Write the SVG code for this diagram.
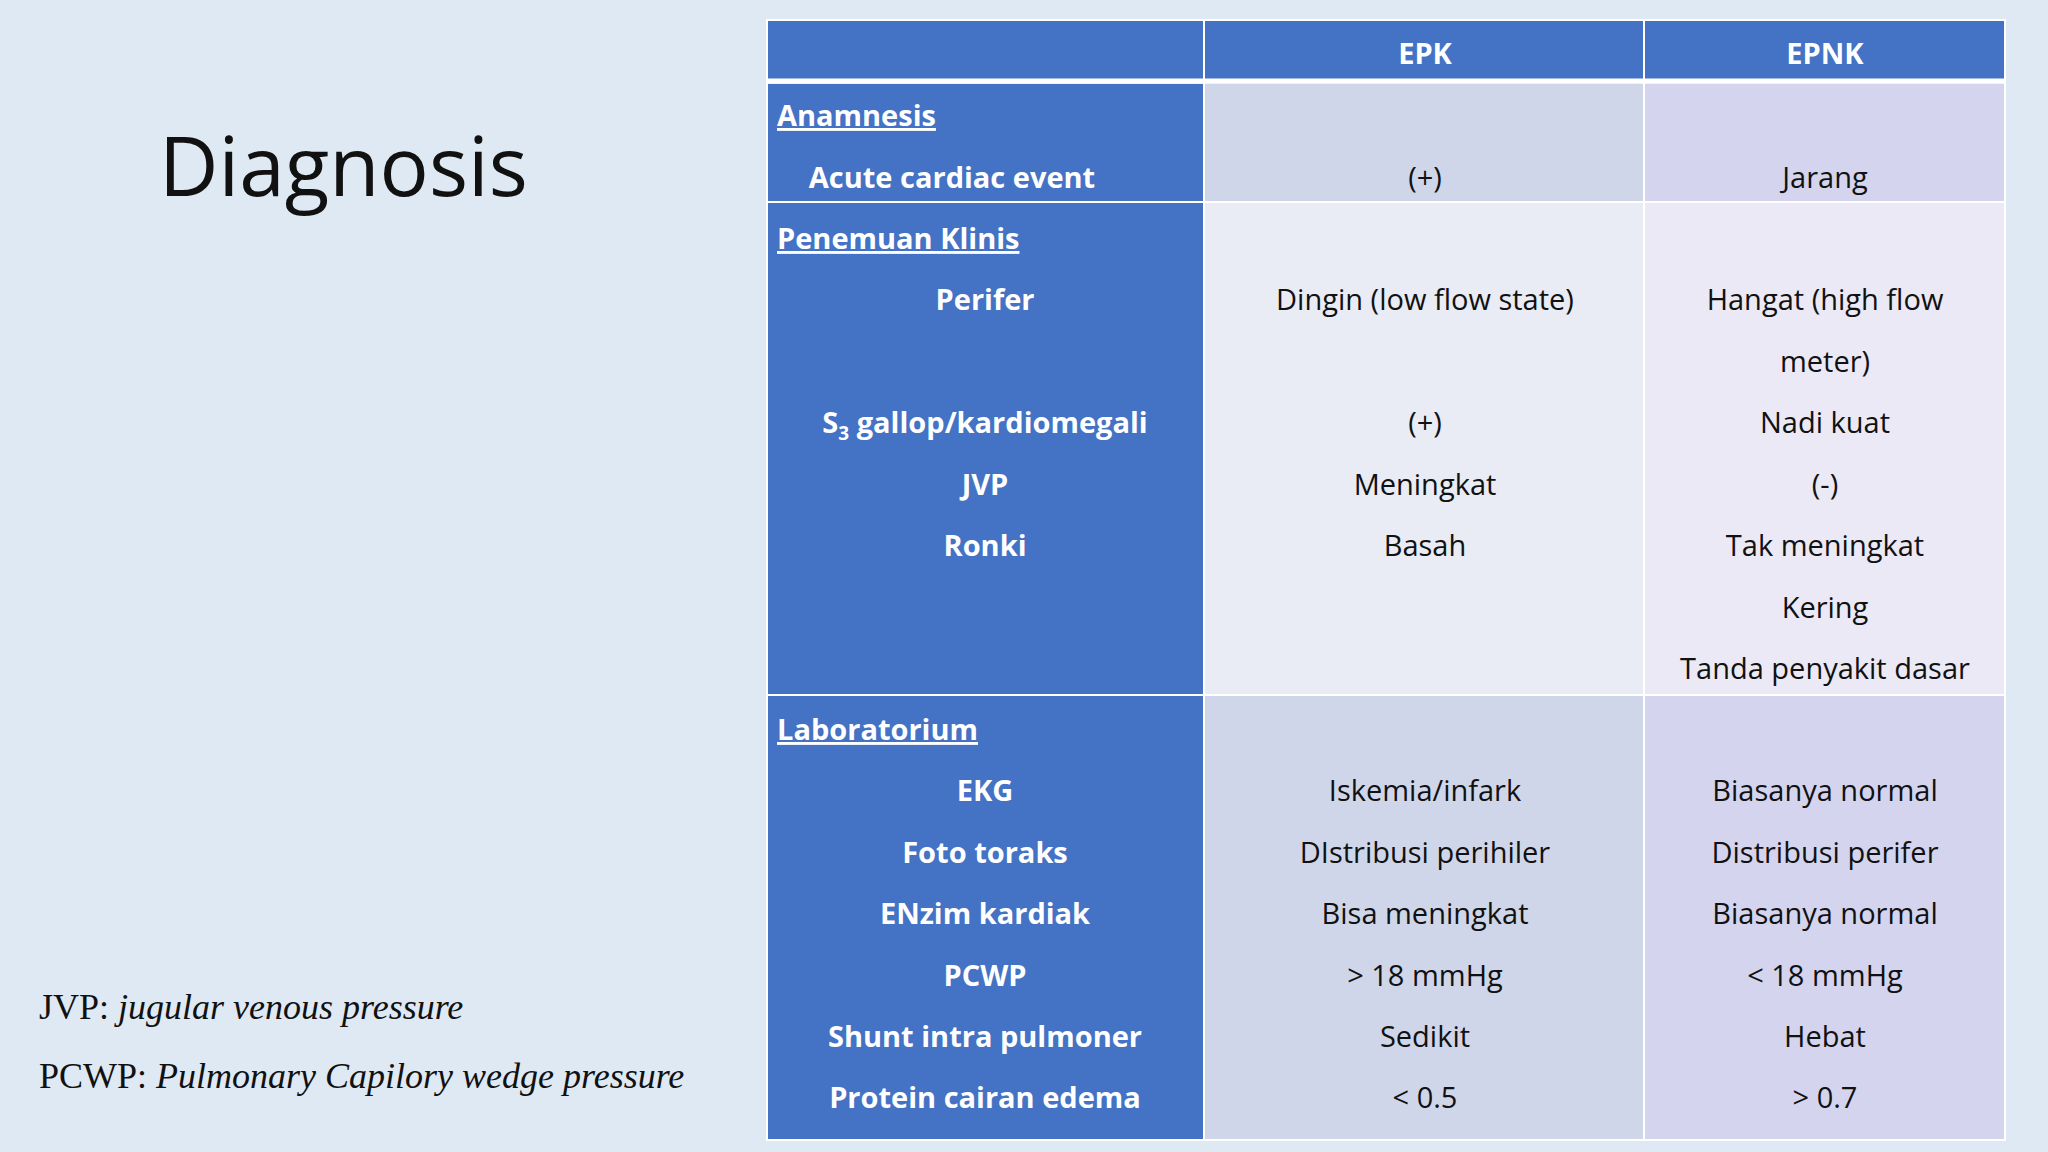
<svg xmlns="http://www.w3.org/2000/svg" width="2048" height="1152" viewBox="0 0 2048 1152">
<style>
.t{font-family:"Open Sans","Liberation Sans",sans-serif;font-size:29px;text-anchor:middle}
.w{fill:#fff;font-weight:bold}
.k{fill:#111}
.h{font-family:"Open Sans","Liberation Sans",sans-serif;font-size:29px;fill:#fff;font-weight:bold;text-decoration:underline}
.n{font-family:"Liberation Serif",serif;font-size:36px;fill:#111}
</style>
<rect width="2048" height="1152" fill="#dfe9f4"/>
<text x="159" y="196" font-family="Open Sans, Liberation Sans, sans-serif" font-size="82" fill="#111">Diagnosis</text>
<g id="table">
<rect x="767" y="20" width="1238" height="60" fill="#4472c4"/>
<rect x="767" y="84" width="437" height="1056" fill="#4472c4"/>
<rect x="1204" y="84" width="440" height="118" fill="#d0d6ea"/>
<rect x="1644" y="84" width="361" height="118" fill="#d4d4ef"/>
<rect x="1204" y="202" width="440" height="493" fill="#e9ebf5"/>
<rect x="1644" y="202" width="361" height="493" fill="#ebe9f5"/>
<rect x="1204" y="695" width="440" height="445" fill="#d0d6ea"/>
<rect x="1644" y="695" width="361" height="445" fill="#d4d4ef"/>
<g stroke="#fff" fill="none">
<rect x="767" y="20" width="1238" height="1120" stroke-width="2"/>
<line x1="767" y1="81" x2="2005" y2="81" stroke-width="5"/>
<line x1="767" y1="202" x2="2005" y2="202" stroke-width="2"/>
<line x1="767" y1="695" x2="2005" y2="695" stroke-width="2"/>
<line x1="1204" y1="20" x2="1204" y2="1140" stroke-width="2"/>
<line x1="1644" y1="20" x2="1644" y2="1140" stroke-width="2"/>
</g>
</g>
<g id="header">
<text class="t w" x="1425" y="64">EPK</text>
<text class="t w" x="1825" y="64">EPNK</text>
</g>
<g id="col1">
<text class="h" x="777" y="126">Anamnesis</text>
<text class="t w" x="952" y="188">Acute cardiac event</text>
<text class="h" x="777" y="249">Penemuan Klinis</text>
<text class="t w" x="985" y="310">Perifer</text>
<text class="t w" x="985" y="433">S<tspan font-size="19" dy="7">3</tspan><tspan dy="-7"> gallop/kardiomegali</tspan></text>
<text class="t w" x="985" y="495">JVP</text>
<text class="t w" x="985" y="556">Ronki</text>
<text class="h" x="777" y="740">Laboratorium</text>
<text class="t w" x="985" y="801">EKG</text>
<text class="t w" x="985" y="863">Foto toraks</text>
<text class="t w" x="985" y="924">ENzim kardiak</text>
<text class="t w" x="985" y="986">PCWP</text>
<text class="t w" x="985" y="1047">Shunt intra pulmoner</text>
<text class="t w" x="985" y="1108">Protein cairan edema</text>
</g>
<g id="col2">
<text class="t k" x="1425" y="188">(+)</text>
<text class="t k" x="1425" y="310">Dingin (low flow state)</text>
<text class="t k" x="1425" y="433">(+)</text>
<text class="t k" x="1425" y="495">Meningkat</text>
<text class="t k" x="1425" y="556">Basah</text>
<text class="t k" x="1425" y="801">Iskemia/infark</text>
<text class="t k" x="1425" y="863">DIstribusi perihiler</text>
<text class="t k" x="1425" y="924">Bisa meningkat</text>
<text class="t k" x="1425" y="986">&gt; 18 mmHg</text>
<text class="t k" x="1425" y="1047">Sedikit</text>
<text class="t k" x="1425" y="1108">&lt; 0.5</text>
</g>
<g id="col3">
<text class="t k" x="1825" y="188">Jarang</text>
<text class="t k" x="1825" y="310">Hangat (high flow</text>
<text class="t k" x="1825" y="372">meter)</text>
<text class="t k" x="1825" y="433">Nadi kuat</text>
<text class="t k" x="1825" y="495">(-)</text>
<text class="t k" x="1825" y="556">Tak meningkat</text>
<text class="t k" x="1825" y="618">Kering</text>
<text class="t k" x="1825" y="679">Tanda penyakit dasar</text>
<text class="t k" x="1825" y="801">Biasanya normal</text>
<text class="t k" x="1825" y="863">Distribusi perifer</text>
<text class="t k" x="1825" y="924">Biasanya normal</text>
<text class="t k" x="1825" y="986">&lt; 18 mmHg</text>
<text class="t k" x="1825" y="1047">Hebat</text>
<text class="t k" x="1825" y="1108">&gt; 0.7</text>
</g>
<g id="notes">
<text class="n" x="39" y="1019">JVP: <tspan font-style="italic">jugular venous pressure</tspan></text>
<text class="n" x="39" y="1088">PCWP: <tspan font-style="italic">Pulmonary Capilory wedge pressure</tspan></text>
</g>
</svg>
